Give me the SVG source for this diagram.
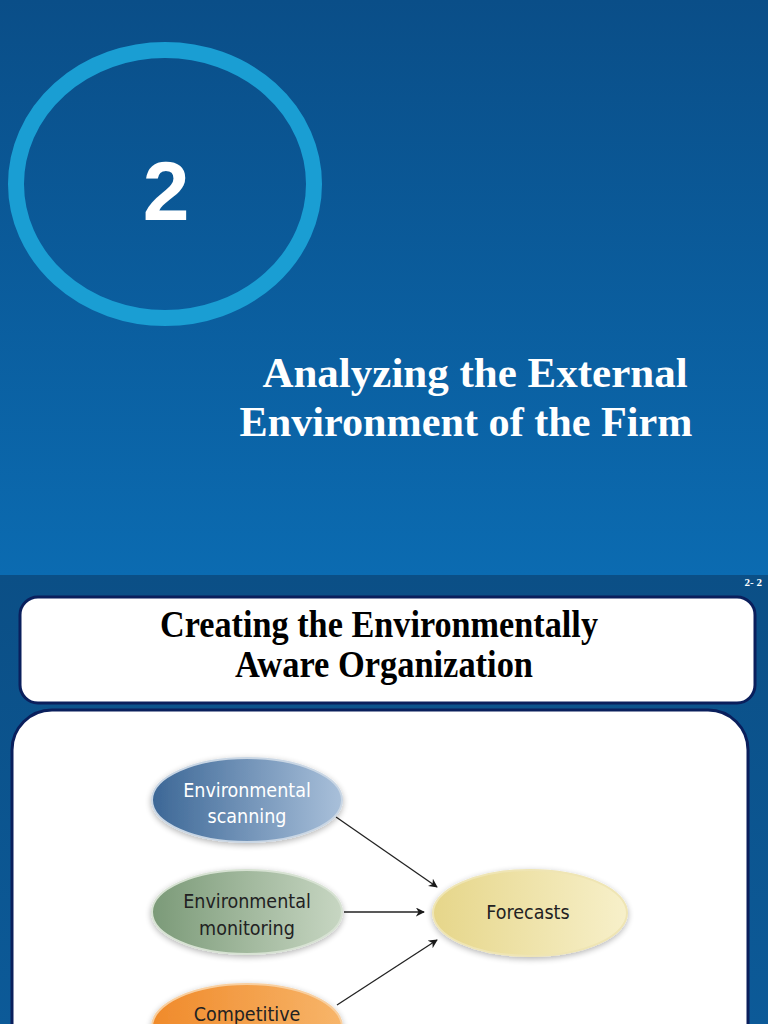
<svg xmlns="http://www.w3.org/2000/svg" width="768" height="1024" viewBox="0 0 768 1024">
<defs>
<linearGradient id="topBg" x1="0" y1="0" x2="0" y2="1">
<stop offset="0" stop-color="#0a4e88"/>
<stop offset="1" stop-color="#0b6bb1"/>
</linearGradient>
<linearGradient id="botBg" x1="0" y1="0" x2="0" y2="1">
<stop offset="0" stop-color="#0b4f86"/>
<stop offset="1" stop-color="#0c5a98"/>
</linearGradient>
<linearGradient id="gBlue" x1="0" y1="0" x2="1" y2="0">
<stop offset="0" stop-color="#3c6796"/>
<stop offset="1" stop-color="#a9c0da"/>
</linearGradient>
<linearGradient id="gGreen" x1="0" y1="0" x2="1" y2="0">
<stop offset="0" stop-color="#7b9a78"/>
<stop offset="1" stop-color="#c7d6c2"/>
</linearGradient>
<linearGradient id="gYellow" x1="0" y1="0" x2="1" y2="0">
<stop offset="0" stop-color="#e6d68a"/>
<stop offset="1" stop-color="#f7f0ca"/>
</linearGradient>
<linearGradient id="gOrange" x1="0" y1="0" x2="1" y2="0">
<stop offset="0" stop-color="#f08a2a"/>
<stop offset="1" stop-color="#f7b56a"/>
</linearGradient>
<filter id="sh" x="-20%" y="-30%" width="140%" height="160%">
<feGaussianBlur in="SourceAlpha" stdDeviation="3"/>
<feOffset dx="0" dy="2"/>
<feComponentTransfer><feFuncA type="linear" slope="0.3"/></feComponentTransfer>
<feMerge><feMergeNode/><feMergeNode in="SourceGraphic"/></feMerge>
</filter>
<marker id="arr" viewBox="0 0 10 10" refX="9" refY="5" markerWidth="9" markerHeight="9" orient="auto" markerUnits="userSpaceOnUse">
<path d="M0,0 L10,5 L0,10 L3,5 Z" fill="#1a1a1a"/>
</marker>
</defs>
<style>
.title{font-family:"Liberation Serif","Times New Roman",serif;font-weight:bold;text-anchor:middle}
.node{font-family:"DejaVu Sans Condensed","Liberation Sans",sans-serif;font-size:19.5px;text-anchor:middle}
.conn{stroke:#222;stroke-width:1.3;fill:none;marker-end:url(#arr)}
</style>
<!-- top slide -->
<rect x="0" y="0" width="768" height="575" fill="url(#topBg)"/>
<ellipse cx="165" cy="184" rx="149" ry="134" fill="none" stroke="#1a9ed3" stroke-width="16"/>
<text x="166" y="220" font-family="Liberation Sans, Arial, sans-serif" font-weight="bold" font-size="84" fill="#ffffff" text-anchor="middle">2</text>
<text class="title" x="475" y="387" font-size="43" fill="#ffffff">Analyzing the External</text>
<text class="title" x="466" y="436" font-size="43" fill="#ffffff" textLength="453" lengthAdjust="spacingAndGlyphs">Environment of the Firm</text>
<!-- bottom slide -->
<rect x="0" y="575" width="768" height="449" fill="url(#botBg)"/>
<text x="762" y="586" font-family="Liberation Serif, serif" font-weight="bold" font-size="11" fill="#ffffff" text-anchor="end">2- 2</text>
<g id="titlebox">
<rect x="20" y="597" width="735" height="106" rx="18" fill="#ffffff" stroke="#0a1f5c" stroke-width="3"/>
<text class="title" x="379" y="637" font-size="38" fill="#000" textLength="438" lengthAdjust="spacingAndGlyphs">Creating the Environmentally</text>
<text class="title" x="384" y="677" font-size="38" fill="#000" textLength="298" lengthAdjust="spacingAndGlyphs">Aware Organization</text>
</g>
<rect x="12" y="710" width="736" height="360" rx="40" fill="#ffffff" stroke="#0a1f5c" stroke-width="3"/>
<g id="connectors">
<line class="conn" x1="336" y1="817" x2="437" y2="887"/>
<line class="conn" x1="344" y1="912" x2="424" y2="912"/>
<line class="conn" x1="337" y1="1005" x2="437" y2="940"/>
</g>
<g id="scanning">
<ellipse cx="247" cy="800" rx="95" ry="42" fill="url(#gBlue)" stroke="#c9d6e4" stroke-width="2" filter="url(#sh)"/>
<text class="node" x="247" y="797" fill="#ffffff">Environmental</text>
<text class="node" x="247" y="823" fill="#ffffff">scanning</text>
</g>
<g id="monitoring">
<ellipse cx="247" cy="912" rx="95" ry="42" fill="url(#gGreen)" stroke="#d7e2d3" stroke-width="2" filter="url(#sh)"/>
<text class="node" x="247" y="908" fill="#222">Environmental</text>
<text class="node" x="247" y="935" fill="#222">monitoring</text>
</g>
<g id="competitive">
<ellipse cx="247" cy="1027" rx="95" ry="43" fill="url(#gOrange)" stroke="#f8cfa0" stroke-width="2" filter="url(#sh)"/>
<text class="node" x="247" y="1021" fill="#222">Competitive</text>
</g>
<g id="forecasts">
<ellipse cx="530" cy="913" rx="97" ry="43" fill="url(#gYellow)" stroke="#efe5b4" stroke-width="2" filter="url(#sh)"/>
<text class="node" x="528" y="919" fill="#222">Forecasts</text>
</g>
</svg>
